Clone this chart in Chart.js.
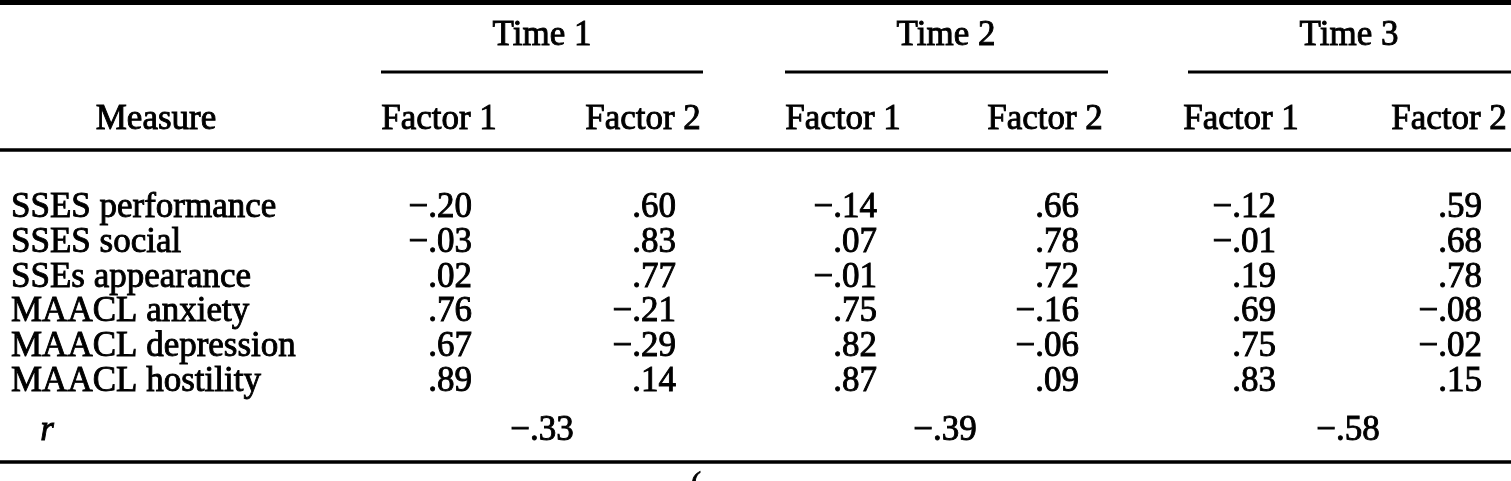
<!DOCTYPE html>
<html>
<head>
<meta charset="utf-8">
<script src="https://cdn.jsdelivr.net/npm/chart.js@4/dist/chart.umd.min.js"></script>
<style>
html,body{margin:0;padding:0;background:#fff;}
#wrap{position:relative;width:1511px;height:481px;}
</style>
</head>
<body>
<div id="wrap"><canvas id="c"></canvas></div>
<script>
// ---- data ----
const measures = ['SSES performance','SSES social','SSEs appearance','MAACL anxiety','MAACL depression','MAACL hostility'];
const timeLabels = ['Time 1','Time 2','Time 3'];
const factorLabels = ['Factor 1','Factor 2'];
const headerLabel = 'Measure';
const rLabel = 'r';
const time1Factor1 = [-0.20,-0.03, 0.02, 0.76, 0.67, 0.89];
const time1Factor2 = [ 0.60, 0.83, 0.77,-0.21,-0.29, 0.14];
const time2Factor1 = [-0.14, 0.07,-0.01, 0.75, 0.82, 0.87];
const time2Factor2 = [ 0.66, 0.78, 0.72,-0.16,-0.06, 0.09];
const time3Factor1 = [-0.12,-0.01, 0.19, 0.69, 0.75, 0.83];
const time3Factor2 = [ 0.59, 0.68, 0.78,-0.08,-0.02, 0.15];
const rValues = [-0.33,-0.39,-0.58];

// ---- layout (positions in scale units) ----
const W = 1511, H = 481;
const colRight = [472,676,877,1079,1276,1482];
const factorCenter = [439,643,843,1045,1241,1449];
const timeCenter = [542,946,1349];
const timeRuleSpan = [[381,703],[785,1108],[1188,1511]];
const rCenter = [542,945,1348];
const yTime = 45, yTimeRule = 72, yHeader = 129, yHeaderRule = 150;
const yRow0 = 217, rowStep = 34.8, yR = 440, yTopRule = 2.5, yBottomRule = 462;
const labelX = 11, rX = 47, measureCenter = 156;
const FONT = '"Liberation Serif", "Times New Roman", serif';
const fontSize = 35;

const fmt = v => (v < 0 ? '\u2212' : '') + '.' + String(Math.round(Math.abs(v)*100)).padStart(2,'0');

const series = [time1Factor1,time1Factor2,time2Factor1,time2Factor2,time3Factor1,time3Factor2];

const datasets = [];
function rule(x1,x2,y,w){
  datasets.push({type:'line',data:[{x:x1,y:y},{x:x2,y:y}],borderColor:'#000',borderWidth:w,pointRadius:0,fill:false});
}
function texts(points, strs, align, opts){
  datasets.push(Object.assign({type:'scatter',data:points,pointRadius:0,texts:strs,align:align}, opts||{}));
}
rule(0,W,yTopRule,5);
timeRuleSpan.forEach(s=>rule(s[0],s[1],yTimeRule,3));
rule(0,W,yHeaderRule,3.5);
rule(0,W,yBottomRule,3.5);

texts(timeLabels.map((t,i)=>({x:timeCenter[i],y:yTime})), timeLabels, 'center');
texts([{x:measureCenter,y:yHeader}], [headerLabel], 'center');
const fl = []; const fp = [];
factorCenter.forEach((c,i)=>{fp.push({x:c,y:yHeader}); fl.push(factorLabels[i%2]);});
texts(fp, fl, 'center');
texts(measures.map((m,i)=>({x:labelX,y:yRow0+i*rowStep})), measures, 'left');
series.forEach((s,ci)=>{
  texts(s.map((v,i)=>({x:colRight[ci],y:yRow0+i*rowStep})), s.map(fmt), 'right');
});
texts([{x:rX,y:yR}], [rLabel], 'center', {italic:true});
texts(rValues.map((v,i)=>({x:rCenter[i],y:yR})), rValues.map(fmt), 'center');
// scan mark below bottom rule
texts([{x:696,y:492}], ['('], 'center', {size:30});

const textPlugin = {
  id:'tableText',
  afterDatasetsDraw(chart){
    const ctx = chart.ctx;
    chart.data.datasets.forEach((ds,di)=>{
      if(!ds.texts) return;
      const meta = chart.getDatasetMeta(di);
      ctx.save();
      ctx.fillStyle = '#000';
      ctx.strokeStyle = '#000';
      ctx.lineWidth = 0.9;
      ctx.font = (ds.italic?'italic ':'') + (ds.size||fontSize) + 'px ' + FONT;
      ctx.textAlign = ds.align;
      ctx.textBaseline = 'alphabetic';
      meta.data.forEach((pt,i)=>{
        ctx.fillText(ds.texts[i], pt.x, pt.y);
        ctx.strokeText(ds.texts[i], pt.x, pt.y);
      });
      ctx.restore();
    });
  }
};

new Chart(document.getElementById('c'), {
  type:'scatter',
  data:{datasets},
  options:{
    responsive:true, maintainAspectRatio:false, animation:false,
    layout:{padding:0},
    plugins:{legend:{display:false},tooltip:{enabled:false},title:{display:false}},
    scales:{
      x:{type:'linear',min:0,max:W,display:false},
      y:{type:'linear',min:0,max:H,reverse:true,display:false}
    }
  },
  plugins:[textPlugin]
});
</script>
</body>
</html>
